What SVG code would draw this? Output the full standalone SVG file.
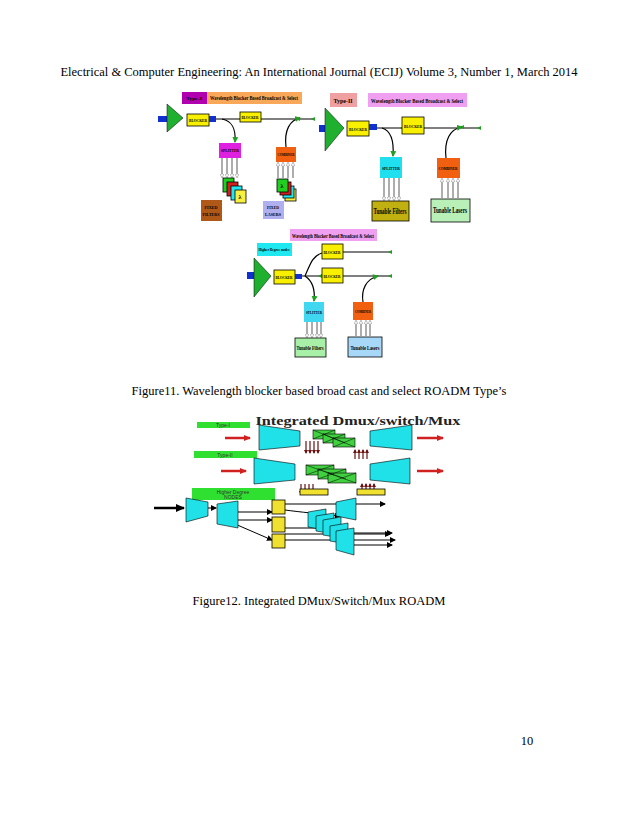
<svg xmlns="http://www.w3.org/2000/svg" width="638" height="826" viewBox="0 0 638 826">
<defs>
<marker id="ga" markerUnits="userSpaceOnUse" markerWidth="6" markerHeight="6" refX="5" refY="3" orient="auto"><path d="M0,0L6,3L0,6z" fill="#20a020"/></marker>
<marker id="wa" markerUnits="userSpaceOnUse" markerWidth="4" markerHeight="4" refX="3" refY="2" orient="auto"><path d="M0,0L4,2L0,4z" fill="#fff" stroke="#666" stroke-width="0.4"/></marker>
<marker id="ba" markerUnits="userSpaceOnUse" markerWidth="6" markerHeight="6" refX="5" refY="3" orient="auto"><path d="M0,0L6,3L0,6z" fill="#000"/></marker>
<marker id="bb" markerUnits="userSpaceOnUse" markerWidth="9" markerHeight="8" refX="8" refY="4" orient="auto"><path d="M0,0L9,4L0,8z" fill="#000"/></marker>
<marker id="ra" markerUnits="userSpaceOnUse" markerWidth="7" markerHeight="6" refX="6" refY="3" orient="auto"><path d="M0,0L7,3L0,6z" fill="#d02020"/></marker>
<marker id="da" markerUnits="userSpaceOnUse" markerWidth="4" markerHeight="4" refX="3" refY="2" orient="auto"><path d="M0,0L4,2L0,4z" fill="#6a1010"/></marker>
</defs>
<style>
.t{font-family:"Liberation Serif",serif;fill:#000}
.s{font-family:"Liberation Serif",serif;font-weight:bold;fill:#000;text-anchor:middle}
.b{stroke:#000;stroke-width:0.8}
.ln{stroke:#000;stroke-width:1.2;fill:none}
.fw path{stroke:#999;stroke-width:1.6;fill:none;marker-end:url(#wa)}
.rd path{stroke:#d02020;stroke-width:2.5;marker-end:url(#ra)}
.dn path{stroke:#6a1010;stroke-width:1.2;marker-end:url(#da)}
.tr{fill:#20b030;stroke:#000;stroke-width:0.5}
.cy{fill:#20e0e8;stroke:#000;stroke-width:0.6}
.sw{fill:#40d040;stroke:#000;stroke-width:0.6}
.g{font-family:"Liberation Sans",sans-serif;font-size:5px;text-anchor:middle;fill:#333}
</style>
<rect width="638" height="826" fill="#fff"/>
<text class="t" x="319" y="76" font-size="12.5" text-anchor="middle">Electrical &amp; Computer Engineering: An International Journal (ECIJ) Volume 3, Number 1, March 2014</text>

<g id="connectors">
<path class="ln" d="M216,119H313"/>
<path d="M296,119l4,-2v4z M311,119l4,-2v4z" fill="#20a020"/>
<path class="ln" d="M222,119C232,121 236,128 235,142" marker-end="url(#ga)"/>
<path class="ln" d="M286,147C284,130 290,120 300,118" marker-end="url(#ga)"/>
<g class="fw">
<path d="M222,158V177"/><path d="M227,158V177"/><path d="M232,158V177"/><path d="M237,158V177"/>
<path d="M278,178V163"/><path d="M283,178V163"/><path d="M288,178V163"/><path d="M293,178V163"/>
<path d="M384,178V200"/><path d="M389,178V200"/><path d="M394,178V200"/><path d="M399,178V200"/>
<path d="M442,198V179"/><path d="M448,198V179"/><path d="M453,198V179"/><path d="M458,198V179"/>
<path d="M307,322V337"/><path d="M312,322V337"/><path d="M317,322V337"/><path d="M321,322V337"/>
<path d="M356,336V321"/><path d="M361,336V321"/><path d="M366,336V321"/><path d="M370,336V321"/>
</g>
<path class="ln" d="M377,128H480"/>
<path d="M400,128l4,-2v4z M460,127l4,-2v4z M477,128l4,-2v4z" fill="#20a020"/>
<path class="ln" d="M382,128C392,131 394,142 393,156" marker-end="url(#ga)"/>
<path class="ln" d="M446,158C444,140 450,129 462,127" marker-end="url(#ga)"/>
<path class="ln" d="M302,276H390M343,252H390"/>
<path d="M318,276l4,-2v4z M388,276l4,-2v4z M388,252l4,-2v4z" fill="#20a020"/>
<path class="ln" d="M305,276C310,265 312,256 322,253"/>
<path class="ln" d="M305,276C314,282 315,292 314,301" marker-end="url(#ga)"/>
<path class="ln" d="M363,302C361,290 366,279 378,276" marker-end="url(#ga)"/>
<g class="rd"><path d="M225,438H250"/><path d="M221,471H246"/><path d="M417,438H443"/><path d="M417,471H443"/></g>
<g class="dn">
<path d="M306,441V453"/><path d="M310,441V453"/><path d="M314,441V453"/><path d="M318,441V453"/>
<path d="M301,484V494"/><path d="M305,484V494"/><path d="M309,484V494"/><path d="M313,484V494"/>
<path d="M355,459V450"/><path d="M359,459V450"/><path d="M363,459V450"/><path d="M367,459V450"/>
<path d="M362,494V484"/><path d="M366,494V484"/><path d="M370,494V484"/><path d="M374,494V484"/>
</g>
<path d="M154,508H184" stroke="#000" stroke-width="2.5" marker-end="url(#bb)"/>
<g stroke="#000" stroke-width="1" fill="none" marker-end="url(#ba)">
<path d="M203,508H216"/><path d="M232,512H272"/><path d="M232,520H272"/>
<path d="M285,504H385"/><path d="M285,510C300,512 320,514 340,516"/>
<path d="M285,528H330"/><path d="M285,534H390"/><path d="M285,540H395"/>
<path d="M235,524L272,540"/><path d="M340,533H392"/><path d="M350,545H392"/>
</g>
</g>

<g id="type1-label"><rect x="182" y="92" width="25" height="12" fill="#b000b0"/><text class="s" x="194" y="100" font-size="5" textLength="16" lengthAdjust="spacingAndGlyphs">Type-I</text>
<rect x="207" y="92" width="95" height="12" fill="#f8a858"/><text class="s" x="254" y="100" font-size="5.5" textLength="88" lengthAdjust="spacingAndGlyphs">Wavelength Blocker Based Broadcast &amp; Select</text></g>
<g id="t1-amp"><rect x="158" y="116" width="10" height="6" fill="#1030d0"/><path class="tr" d="M167,104L183,118L167,132z"/></g>
<g id="t1-blocker1"><rect class="b" x="187" y="114" width="22" height="12" fill="#f8f000"/><text class="s" x="198" y="122" font-size="4.5" textLength="18" lengthAdjust="spacingAndGlyphs">BLOCKER</text><rect x="209" y="116" width="7" height="6" fill="#1030d0"/></g>
<g id="t1-blocker2"><rect class="b" x="240" y="112" width="21" height="10" fill="#f8f000"/><text class="s" x="250" y="119" font-size="4.5" textLength="17" lengthAdjust="spacingAndGlyphs">BLOCKER</text></g>
<g id="t1-splitter"><rect x="219" y="143" width="22" height="15" fill="#e020e0"/><text class="s" x="230" y="152" font-size="4.5" textLength="18" lengthAdjust="spacingAndGlyphs">SPLITTER</text></g>
<g id="t1-filters"><rect class="b" x="223" y="178" width="11" height="14" fill="#20d020"/><rect class="b" x="227" y="182" width="11" height="14" fill="#d02020"/><rect class="b" x="231" y="186" width="11" height="14" fill="#20e8f0"/><rect class="b" x="235" y="190" width="11" height="13" fill="#f8f040"/><text class="s" x="240" y="199" font-size="6">λ</text></g>
<g id="t1-fixed-filters"><rect x="201" y="200" width="21" height="21" fill="#b05818"/><text class="s" x="211" y="209" font-size="5" textLength="13" lengthAdjust="spacingAndGlyphs">FIXED</text><text class="s" x="211" y="216" font-size="5" textLength="17" lengthAdjust="spacingAndGlyphs">FILTERS</text></g>
<g id="t1-combiner"><rect x="276" y="147" width="20" height="15" fill="#f06010"/><text class="s" x="286" y="156" font-size="4" textLength="17" lengthAdjust="spacingAndGlyphs">COMBINER</text></g>
<g id="t1-lasers"><rect class="b" x="285" y="189" width="11" height="12" fill="#f8f040"/><rect class="b" x="283" y="186" width="11" height="12" fill="#20e8f0"/><rect class="b" x="280" y="182" width="11" height="13" fill="#d02020"/><rect class="b" x="277" y="179" width="11" height="13" fill="#20d020"/><text class="s" x="282" y="188" font-size="6">λ</text></g>
<g id="t1-fixed-lasers"><rect x="263" y="201" width="21" height="18" fill="#b0b0f0"/><text class="s" x="273" y="209" font-size="5" textLength="12" lengthAdjust="spacingAndGlyphs">FIXED</text><text class="s" x="273" y="216" font-size="5" textLength="16" lengthAdjust="spacingAndGlyphs">LASERS</text></g>

<g id="type2-label"><rect x="330" y="93" width="27" height="14" fill="#f0a0a0"/><text class="s" x="343" y="103" font-size="6.5" textLength="19" lengthAdjust="spacingAndGlyphs">Type-II</text>
<rect x="368" y="93" width="99" height="14" fill="#f0a0f0"/><text class="s" x="417" y="103" font-size="6" textLength="92" lengthAdjust="spacingAndGlyphs">Wavelength Blocker Based Broadcast &amp; Select</text></g>
<g id="t2-amp"><rect x="319" y="125" width="11" height="7" fill="#1030d0"/><path class="tr" d="M325,108L344,128L325,151z"/></g>
<g id="t2-blocker1"><rect class="b" x="347" y="121" width="22" height="15" fill="#f8f000"/><text class="s" x="358" y="131" font-size="4.5" textLength="18" lengthAdjust="spacingAndGlyphs">BLOCKER</text><rect x="369" y="124" width="8" height="6" fill="#1030d0"/></g>
<g id="t2-blocker2"><rect class="b" x="402" y="117" width="22" height="17" fill="#f8f000"/><text class="s" x="413" y="128" font-size="4.5" textLength="18" lengthAdjust="spacingAndGlyphs">BLOCKER</text></g>
<g id="t2-splitter"><rect x="380" y="157" width="22" height="21" fill="#20e0f0"/><text class="s" x="391" y="170" font-size="5" textLength="18" lengthAdjust="spacingAndGlyphs">SPLITTER</text></g>
<g id="t2-filters"><rect class="b" x="372" y="201" width="37" height="20" fill="#c0b010"/><text class="s" x="390" y="214" font-size="7.5" textLength="33" lengthAdjust="spacingAndGlyphs">Tunable Filters</text></g>
<g id="t2-combiner"><rect x="437" y="158" width="23" height="20" fill="#f06010"/><text class="s" x="448" y="170" font-size="4" textLength="19" lengthAdjust="spacingAndGlyphs">COMBINER</text></g>
<g id="t2-lasers"><rect class="b" x="431" y="199" width="39" height="23" fill="#b8f0b8"/><text class="s" x="450" y="213" font-size="7.5" textLength="34" lengthAdjust="spacingAndGlyphs">Tunable Lasers</text></g>

<g id="hd-label"><rect x="290" y="229" width="87" height="12" fill="#f0a0f0"/><text class="s" x="333" y="237.5" font-size="5.5" textLength="82" lengthAdjust="spacingAndGlyphs">Wavelength Blocker Based Broadcast &amp; Select</text>
<rect x="257" y="243" width="35" height="13" fill="#20e8f0"/><text class="s" x="274" y="251" font-size="4.5" textLength="31" lengthAdjust="spacingAndGlyphs">Higher Degree nodes</text></g>
<g id="hd-amp"><rect x="247" y="272" width="10" height="7" fill="#1030d0"/><path class="tr" d="M254,258L271,276L254,297z"/></g>
<g id="hd-blocker1"><rect class="b" x="274" y="270" width="21" height="14" fill="#f8f000"/><text class="s" x="284" y="279" font-size="4.5" textLength="17" lengthAdjust="spacingAndGlyphs">BLOCKER</text><rect x="295" y="274" width="7" height="5" fill="#1030d0"/></g>
<g id="hd-blocker2"><rect class="b" x="322" y="244" width="21" height="15" fill="#f8f000"/><text class="s" x="332" y="254" font-size="4.5" textLength="17" lengthAdjust="spacingAndGlyphs">BLOCKER</text></g>
<g id="hd-blocker3"><rect class="b" x="322" y="268" width="21" height="15" fill="#f8f000"/><text class="s" x="332" y="278" font-size="4.5" textLength="17" lengthAdjust="spacingAndGlyphs">BLOCKER</text></g>
<g id="hd-splitter"><rect x="304" y="302" width="20" height="20" fill="#40d8f0"/><text class="s" x="314" y="314" font-size="4.5" textLength="16" lengthAdjust="spacingAndGlyphs">SPLITTER</text></g>
<g id="hd-filters"><rect class="b" x="295" y="338" width="31" height="19" fill="#a8f0a8"/><text class="s" x="310" y="350" font-size="6" textLength="27" lengthAdjust="spacingAndGlyphs">Tunable Filters</text></g>
<g id="hd-combiner"><rect x="353" y="302" width="20" height="18" fill="#f06010"/><text class="s" x="363" y="313" font-size="3.5" textLength="16" lengthAdjust="spacingAndGlyphs">COMBINER</text></g>
<g id="hd-lasers"><rect class="b" x="348" y="337" width="34" height="20" fill="#a8d8f8"/><text class="s" x="365" y="350" font-size="6" textLength="29" lengthAdjust="spacingAndGlyphs">Tunable Lasers</text></g>

<text class="t" x="319" y="395" font-size="12.5" text-anchor="middle">Figure11. Wavelength blocker based broad cast and select ROADM Type’s</text>

<g id="fig12">
<text x="358" y="425" font-family="Liberation Serif,serif" font-weight="bold" font-size="12" fill="#222" text-anchor="middle" textLength="205" lengthAdjust="spacingAndGlyphs">Integrated Dmux/switch/Mux</text>
<rect x="197" y="422" width="53" height="6" fill="#30e030"/><text class="g" x="223" y="427">Type-I</text>
<rect x="194" y="451" width="63" height="7" fill="#30e030"/><text class="g" x="225" y="457">Type-II</text>
<rect x="192" y="488" width="83" height="12" fill="#30e030"/><text class="g" x="233" y="493.5">Higher Degree</text><text class="g" x="233" y="499">NODES</text>
</g>
<g id="dmux1"><path class="cy" d="M259,425L300,431V446L259,450z"/></g>
<g id="mux1"><path class="cy" d="M370,431L412,425V450L370,446z"/></g>
<g id="dmux2"><path class="cy" d="M254,458L295,464V480L254,484z"/></g>
<g id="mux2"><path class="cy" d="M370,464L410,458V484L370,480z"/></g>
<g id="switch1"><g class="sw"><rect x="313" y="430" width="22" height="9"/><rect x="323" y="434" width="22" height="9"/><rect x="333" y="438" width="22" height="9"/></g>
<path d="M313,430l22,9m0,-9l-22,9M323,434l22,9m0,-9l-22,9M333,438l22,9m0,-9l-22,9" stroke="#000" stroke-width="0.5"/></g>
<g id="switch2"><g class="sw"><rect x="306" y="465" width="28" height="10"/><rect x="318" y="469" width="28" height="10"/><rect x="328" y="473" width="28" height="10"/></g>
<path d="M306,465l28,10m0,-10l-28,10M318,469l28,10m0,-10l-28,10M328,473l28,10m0,-10l-28,10" stroke="#000" stroke-width="0.5"/></g>
<g id="ysmall"><rect class="b" x="300" y="489" width="28" height="6" fill="#f0e030"/><rect class="b" x="357" y="489" width="28" height="6" fill="#f0e030"/></g>
<g id="hd12"><path class="cy" d="M186,498L208,502V516L186,522z"/><path class="cy" d="M217,504L238,501V528L217,524z"/>
<rect class="b" x="272" y="500" width="13" height="14" fill="#f0e030"/><rect class="b" x="272" y="517" width="13" height="15" fill="#f0e030"/><rect class="b" x="272" y="534" width="13" height="14" fill="#f0e030"/>
<path class="cy" d="M336,502L356,498V520L336,516z"/><path class="cy" d="M308,512L326,509V530L308,527z"/><path class="cy" d="M316,516L334,513V534L316,531z"/><path class="cy" d="M323,520L341,517V538L323,535z"/><path class="cy" d="M330,526L348,523V544L330,541z"/><path class="cy" d="M336,531L354,528V555L336,550z"/></g>

<text class="t" x="319" y="605" font-size="12.5" text-anchor="middle">Figure12. Integrated DMux/Switch/Mux ROADM</text>
<text class="t" x="527" y="745" font-size="12.5" text-anchor="middle">10</text>
</svg>
